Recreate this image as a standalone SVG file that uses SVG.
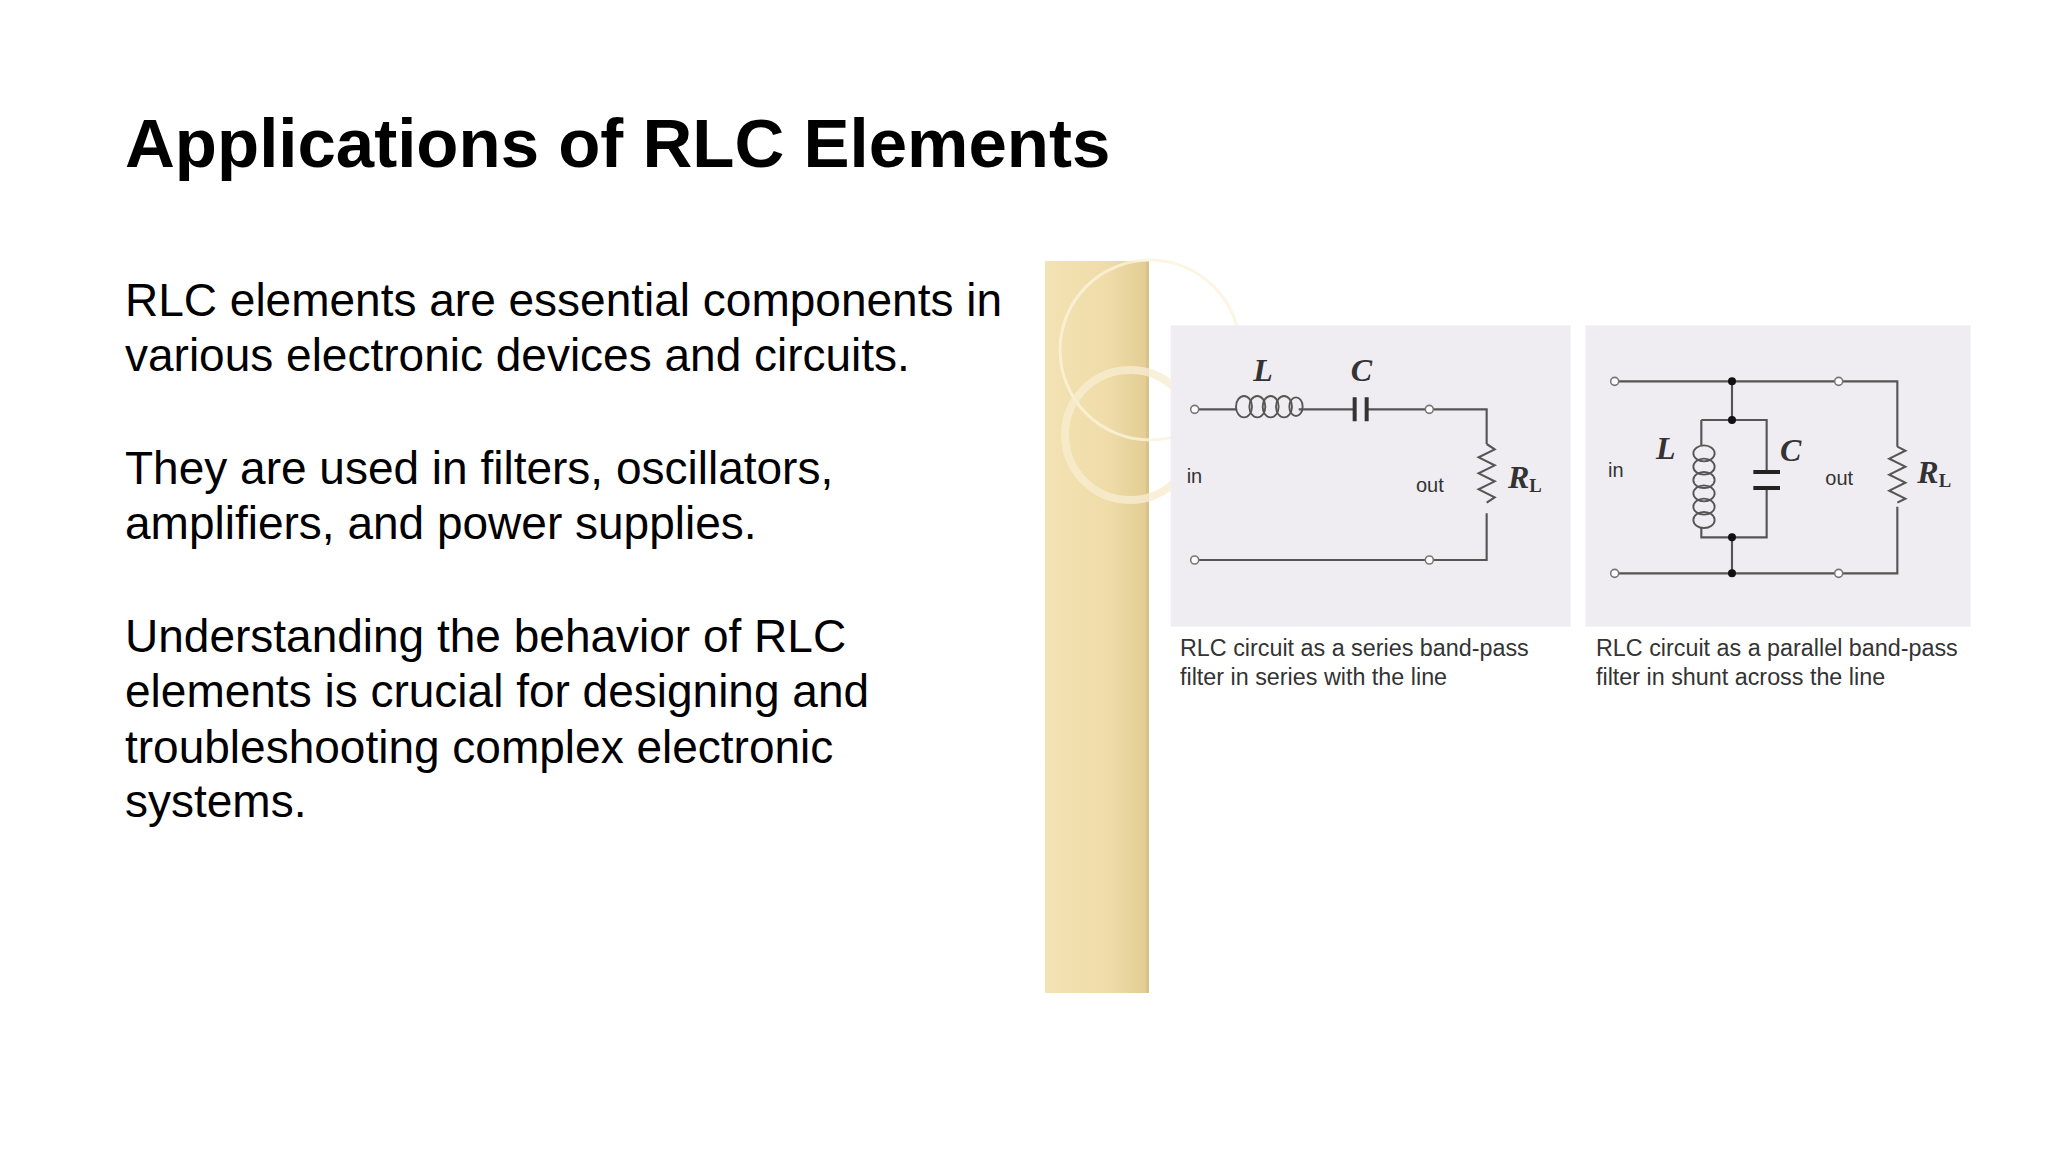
<svg xmlns="http://www.w3.org/2000/svg" width="2048" height="1152" viewBox="0 0 2048 1152">
<style>
.t{font-family:"Liberation Sans",Arial,sans-serif;fill:#000}
.body{font-size:46px}
.cap{font-family:"Liberation Sans",Arial,sans-serif;font-size:17.5px;fill:#333}
.w{fill:none;stroke:#555;stroke-width:1.6}
.coil{fill:none;stroke:#555;stroke-width:1.4}
.term{fill:#fff;stroke:#777;stroke-width:1.2}
.dot{fill:#111}
.lab{font-family:"Liberation Sans",Arial,sans-serif;font-size:15px;fill:#333}
.sym{font-family:"Liberation Serif","Times New Roman",serif;font-style:italic;font-weight:bold;font-size:24px;fill:#333}
</style>
<defs>
<linearGradient id="bar" x1="0" y1="0" x2="1" y2="0">
<stop offset="0" stop-color="#f3e2b3"/><stop offset="0.6" stop-color="#efdca9"/><stop offset="1" stop-color="#e2cc92"/>
</linearGradient>
</defs>
<rect width="2048" height="1152" fill="#fff"/>
<text class="t" x="125" y="167" font-size="69" font-weight="bold">Applications of RLC Elements</text>
<g id="text">
<text class="t body" x="125" y="316">RLC elements are essential components in</text>
<text class="t body" x="125" y="371">various electronic devices and circuits.</text>
<text class="t body" x="125" y="484">They are used in filters, oscillators,</text>
<text class="t body" x="125" y="539">amplifiers, and power supplies.</text>
<text class="t body" x="125" y="652">Understanding the behavior of RLC</text>
<text class="t body" x="125" y="707">elements is crucial for designing and</text>
<text class="t body" x="125" y="763">troubleshooting complex electronic</text>
<text class="t body" x="125" y="817">systems.</text>
</g>
<g id="decor">
<rect x="1045" y="261" width="104" height="732" fill="url(#bar)"/>
<rect x="1146" y="261" width="3" height="732" fill="#d8c38a"/>
<circle cx="1150" cy="350" r="90" fill="none" stroke="#fbf3dc" stroke-width="3" opacity="0.8"/>
<circle cx="1130" cy="435" r="65" fill="none" stroke="#f7ecd0" stroke-width="8" opacity="0.8"/>
</g>
<g transform="scale(1.33333)">
<g id="panel-series">
<rect x="878" y="244" width="300" height="226" fill="#efedf2"/>
<path class="w" d="M899,307 H927 M974,307 H1016 M1025,307 H1069 M1075,307 H1115 V333 M1115,385 V420 H1075 M1069,420 H899"/>
<ellipse class="coil" cx="933" cy="305" rx="6" ry="8"/>
<ellipse class="coil" cx="943" cy="305" rx="6" ry="8"/>
<ellipse class="coil" cx="953" cy="305" rx="6" ry="8"/>
<ellipse class="coil" cx="963" cy="305" rx="6" ry="8"/>
<ellipse class="coil" cx="972" cy="305" rx="5" ry="7"/>
<path d="M1016,298 V316 M1025,298 V316" stroke="#333" stroke-width="3"/>
<path class="w" d="M1115,333 l6,4 l-12,6 l12,6 l-12,6 l12,6 l-12,6 l12,6 l-6,4"/>
<circle class="term" cx="896" cy="307" r="3"/><circle class="term" cx="1072" cy="307" r="3"/>
<circle class="term" cx="896" cy="420" r="3"/><circle class="term" cx="1072" cy="420" r="3"/>
<text class="sym" x="940" y="286">L</text><text class="sym" x="1013" y="286">C</text>
<text class="lab" x="890" y="362">in</text><text class="lab" x="1062" y="369">out</text>
<text class="sym" x="1131" y="366">R<tspan font-size="14" font-style="normal" dy="3">L</tspan></text>
<text class="cap" x="885" y="492">RLC circuit as a series band-pass</text>
<text class="cap" x="885" y="514">filter in series with the line</text>
</g>
<g id="panel-parallel">
<rect x="1189" y="244" width="289" height="226" fill="#efedf2"/>
<path class="w" d="M1214,286 H1376 M1382,286 H1423 V335 M1423,380 V430 H1382 M1376,430 H1214 M1299,286 V315 M1276,315 H1325 V354 M1325,366 V403 H1276 V396 M1276,334 V315 M1299,403 V430"/>
<ellipse class="coil" cx="1278" cy="340" rx="8" ry="6"/>
<ellipse class="coil" cx="1278" cy="350" rx="8" ry="6"/>
<ellipse class="coil" cx="1278" cy="360" rx="8" ry="6"/>
<ellipse class="coil" cx="1278" cy="370" rx="8" ry="6"/>
<ellipse class="coil" cx="1278" cy="380" rx="8" ry="6"/>
<ellipse class="coil" cx="1278" cy="390" rx="8" ry="6"/>
<path d="M1315,354 H1335 M1315,366 H1335" stroke="#222" stroke-width="3"/>
<path class="w" d="M1423,335 l6,3 l-12,6 l12,6 l-12,6 l12,6 l-12,6 l12,6 l-6,3"/>
<circle class="dot" cx="1299" cy="286" r="3"/><circle class="dot" cx="1299" cy="315" r="3"/>
<circle class="dot" cx="1299" cy="403" r="3"/><circle class="dot" cx="1299" cy="430" r="3"/>
<circle class="term" cx="1211" cy="286" r="3"/><circle class="term" cx="1379" cy="286" r="3"/>
<circle class="term" cx="1211" cy="430" r="3"/><circle class="term" cx="1379" cy="430" r="3"/>
<text class="sym" x="1242" y="344">L</text><text class="sym" x="1335" y="346">C</text>
<text class="lab" x="1206" y="358">in</text><text class="lab" x="1369" y="364">out</text>
<text class="sym" x="1438" y="362">R<tspan font-size="14" font-style="normal" dy="3">L</tspan></text>
<text class="cap" x="1197" y="492">RLC circuit as a parallel band-pass</text>
<text class="cap" x="1197" y="514">filter in shunt across the line</text>
</g>
</g>
</svg>
